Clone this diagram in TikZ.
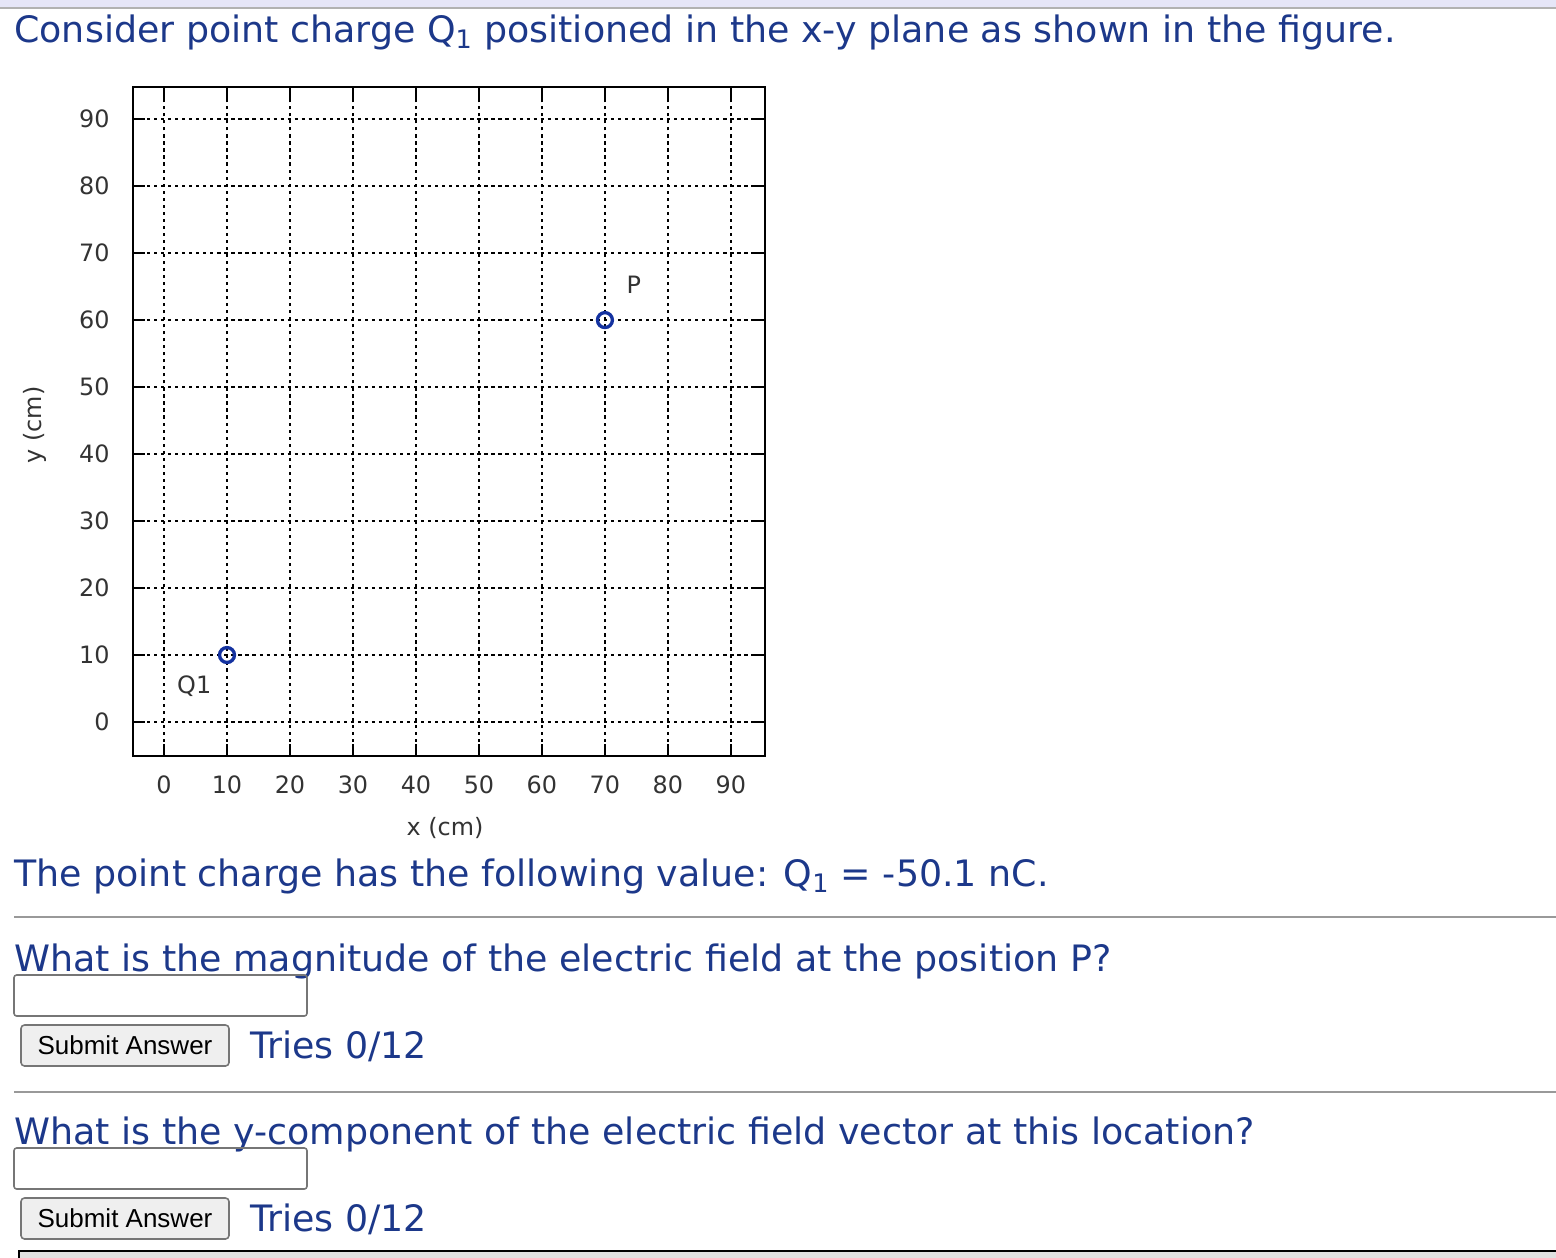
\documentclass[tikz,border=0pt]{standalone}
\usepackage{fontspec}
\setmainfont{DejaVu Sans}
\newfontfamily\btnfont{Liberation Sans}
\definecolor{qblue}{RGB}{28,56,138}
\definecolor{plotgray}{RGB}{51,51,51}
\definecolor{markblue}{RGB}{20,50,160}
\definecolor{bandlav}{RGB}{230,230,248}
\definecolor{btnfill}{RGB}{239,239,239}
\definecolor{boxgray}{RGB}{118,118,118}
\tikzset{
  question/.style={anchor=base west, inner sep=0pt, text=qblue, font=\fontsize{20.7}{24}\selectfont},
  ticklabel/.style={inner sep=0pt, text=plotgray, font=\fontsize{13.6}{16}\selectfont},
  gridline/.style={line width=1.2pt, dash pattern=on 1.8pt off 2.2pt},
  charge/.style={circle, draw=markblue, line width=1.9pt, minimum size=8.5pt, inner sep=0pt},
  answerbox/.style={draw=boxgray, line width=0.9pt, rounded corners=1.5pt},
  submitbtn/.style={draw=boxgray, fill=btnfill, line width=0.9pt, rounded corners=2pt,
    minimum width=208*0.02cm, minimum height=41*0.02cm, inner sep=0pt,
    font=\btnfont\fontsize{14.8}{17}\selectfont},
  hrule/.style={draw=black!40, line width=1.2pt}
}
\begin{document}
\begin{tikzpicture}[x=0.02cm, y=-0.02cm]
  \useasboundingbox (0,0) rectangle (1556,1258);
  % page band at the top
  \fill [bandlav] (0,0) rectangle (1556,8);
  \draw [black!30, line width=1pt] (0,8) -- (1556,8);

  \node (intro) [question] at (14,42)
    {Consider point charge Q\textsubscript{1} positioned in the x-y plane as shown in the figure.};

  % the plot
  \begin{scope}[shift={(164,722)}, x=0.126cm, y=0.134cm]
    \foreach \v in {0,10,...,90} {
      \draw [gridline] (\v,-5.07) -- (\v,94.8);
      \draw [gridline] (-4.92,\v) -- (95.4,\v);
      \draw [line width=1.1pt] (\v,-5.07) -- (\v,-3.3);
      \draw [line width=1.1pt] (\v,94.8) -- (\v,93.0);
      \draw [line width=1.1pt] (-4.92,\v) -- (-3.0,\v);
      \draw [line width=1.1pt] (95.4,\v) -- (93.5,\v);
      \node (xt\v) [ticklabel] at (\v,-9.4) {\v};
      \node (yt\v) [ticklabel, anchor=east] at (-8.6,\v) {\v};
    }
    \draw [line width=1.2pt] (-4.92,-5.07) rectangle (95.4,94.8);
    \node (q1) [charge] at (10,10) {};
    \node (q1lbl) [ticklabel] at (4.8,5.4) {Q1};
    \node (p) [charge] at (70,60) {};
    \node (plbl) [ticklabel] at (74.6,65.2) {P};
  \end{scope}
  \node (xtitle) [ticklabel] at (445,828) {x (cm)};
  \node (ytitle) [ticklabel, rotate=90] at (35,425) {y (cm)};

  \node (value) [question] at (14,886)
    {The point charge has the following value: Q\textsubscript{1} = -50.1 nC.};
  \draw [hrule] (14,917) -- (1556,917);

  % first question
  \node (ask1) [question] at (14,971)
    {What is the magnitude of the electric field at the position P?};
  \draw [answerbox] (14,975) rectangle (307,1016);
  \node (btn1) [submitbtn] at (125,1045.5) {Submit Answer};
  \node (tries1) [question] at (250,1058) {Tries 0/12};
  \draw [hrule] (14,1092) -- (1556,1092);

  % second question
  \node (ask2) [question] at (14,1144)
    {What is the y-component of the electric field vector at this location?};
  \draw [answerbox] (14,1148) rectangle (307,1189);
  \node (btn2) [submitbtn] at (125,1218.5) {Submit Answer};
  \node (tries2) [question] at (250,1231) {Tries 0/12};

  % box at the foot of the page
  \draw [fill=black!12, line width=1.4pt] (19,1251) rectangle (1570,1275);
\end{tikzpicture}
\end{document}
